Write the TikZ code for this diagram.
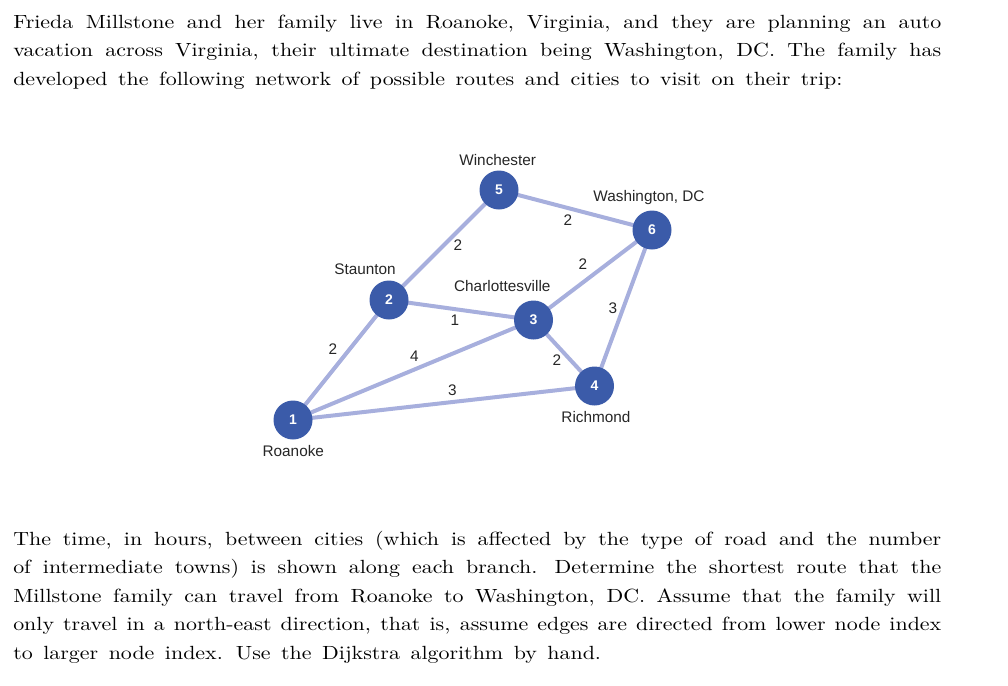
\documentclass[tikz,border=0pt]{standalone}
\usepackage{fontspec}
\newfontfamily\labfont{Liberation Sans}
\newfontfamily\bodyfont{lmroman10-regular}[Extension=.otf,FakeStretch=1.15]
\newcommand\mybodysp{\spaceskip=7.9pt plus 4pt minus 2.2pt\relax}
\usetikzlibrary{backgrounds}
\definecolor{edgecol}{HTML}{A7AFDD}
\definecolor{nodecol}{HTML}{3B5BA9}
\begin{document}
\begin{tikzpicture}[x=0.75pt,y=-0.75pt,
  city/.style={circle,fill=nodecol,draw=none,minimum size=29.25pt,inner sep=0pt,
    text=white,font=\labfont\bfseries\fontsize{10.5pt}{12pt}\selectfont},
  road/.style={draw=edgecol,line width=3pt},
  cityname/.style={anchor=base,inner sep=0pt,font=\labfont\fontsize{11.5pt}{13pt}\selectfont,text=black!85},
  weight/.style={anchor=base,inner sep=0pt,font=\labfont\fontsize{11.5pt}{13pt}\selectfont,text=black!85},
  para/.style={anchor=base west,inner sep=0pt,text width=696pt,align=justify,
    font=\bodyfont\fontsize{14.3pt}{21.4pt}\selectfont}]
\useasboundingbox (0,0) rectangle (1008,686);

\node[para] (p1) at (13,28.3) {\mybodysp Frieda Millstone and her family live in Roanoke, Virginia, and they are planning an auto\linebreak
vacation across Virginia, their ultimate destination being Washington, DC. The family has\linebreak
developed the following network of possible routes and cities to visit on their trip:};

\node[para] (p2) at (13,545) {\mybodysp The time, in hours, between cities (which is affected by the type of road and the number\linebreak
of intermediate towns) is shown along each branch.  Determine the shortest route that the\linebreak
Millstone family can travel from Roanoke to Washington, DC. Assume that the family will\linebreak
only travel in a north-east direction, that is, assume edges are directed from lower node index\linebreak
to larger node index. Use the Dijkstra algorithm by hand.};

\node[city] (n1) at (293,420) {1};
\node[city] (n2) at (389,300) {2};
\node[city] (n3) at (533.5,320) {3};
\node[city] (n4) at (594.5,386) {4};
\node[city] (n5) at (499,190) {5};
\node[city] (n6) at (652,230) {6};

\begin{scope}[on background layer]
\draw[road] (n1.center) -- (n2.center);
\draw[road] (n1.center) -- (n3.center);
\draw[road] (n1.center) -- (n4.center);
\draw[road] (n2.center) -- (n3.center);
\draw[road] (n2.center) -- (n5.center);
\draw[road] (n3.center) -- (n4.center);
\draw[road] (n3.center) -- (n6.center);
\draw[road] (n4.center) -- (n6.center);
\draw[road] (n5.center) -- (n6.center);
\end{scope}

\node[cityname] (l5) at (497.7,165) {Winchester};
\node[cityname] (l6) at (649,201.7) {Washington, DC};
\node[cityname] (l2) at (365,274.3) {Staunton};
\node[cityname] (l3) at (502.3,291.7) {Charlottesville};
\node[cityname] (l4) at (596,422.3) {Richmond};
\node[cityname] (l1) at (293.3,456.7) {Roanoke};

\node[weight] (w56) at (568,225) {2};
\node[weight] (w25) at (458,250.5) {2};
\node[weight] (w36) at (583,269.5) {2};
\node[weight] (w46) at (613,313) {3};
\node[weight] (w23) at (455,325.5) {1};
\node[weight] (w12) at (333,354) {2};
\node[weight] (w13) at (414.3,361.5) {4};
\node[weight] (w34) at (557,365.5) {2};
\node[weight] (w14) at (452.3,395.5) {3};
\end{tikzpicture}
\end{document}
